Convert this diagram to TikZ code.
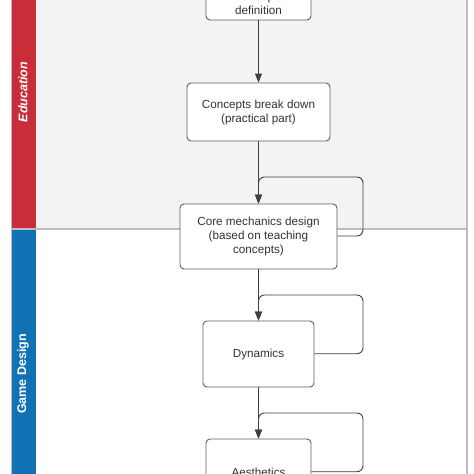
\documentclass[tikz,border=0pt]{standalone}
\usepackage{fontspec}
\setmainfont{Liberation Sans}
\usetikzlibrary{arrows.meta}
\definecolor{edured}{HTML}{C92D39}
\definecolor{gdblue}{HTML}{1071B5}
\definecolor{lanebg}{HTML}{F2F3F5}
\definecolor{laneline}{HTML}{BDBDBD}
\definecolor{boxline}{HTML}{5E5E5E}
\definecolor{arrowc}{HTML}{3F3F3F}
\definecolor{textc}{HTML}{333333}
\tikzset{
  procbox/.style={draw=boxline, line width=0.9pt, rounded corners=4pt, fill=white,
    align=center, text=textc, font=\fontsize{11.7}{14}\selectfont, inner sep=0pt},
  flow/.style={draw=arrowc, line width=0.9pt, -{Triangle[length=9pt,width=7pt]}},
  loopline/.style={flow, rounded corners=6pt},
  lanelabel/.style={text=white, rotate=90, font=\fontsize{12.5}{15}\selectfont\bfseries}
}
\begin{document}
\begin{tikzpicture}[x=1pt,y=-1pt]
\useasboundingbox (0,0) rectangle (474,474);
\begin{scope}
\clip (0,0) rectangle (474,474);
% lanes
\fill[white] (0,0) rectangle (474,474);
\fill[lanebg] (36,0) rectangle (467,229);
\fill[edured] (11,0) rectangle (36,229);
\fill[gdblue] (11,229) rectangle (36,480);
\draw[laneline, line width=1.4pt] (11,229) -- (467,229);
\draw[laneline, line width=1.4pt] (467,-5) -- (467,480);
\draw[laneline, line width=0.6pt] (11,-5) -- (11,480);
\node[lanelabel, font=\fontsize{12.5}{15}\selectfont\bfseries\itshape] (edu) at (23,92) {Education};
\node[lanelabel] (gd) at (23,374) {Game Design};
% boxes
\node[procbox, minimum width=105pt, minimum height=34pt] (def) at (258.5,3) {Concepts\\definition};
\node[procbox, minimum width=143pt, minimum height=58pt] (cbd) at (258.5,112) {Concepts break down\\(practical part)};
\node[procbox, minimum width=157pt, minimum height=65pt] (core) at (258.5,236.5) {Core mechanics design\\(based on teaching\\concepts)};
\node[procbox, minimum width=111pt, minimum height=66pt] (dyn) at (258.5,354) {Dynamics};
\node[procbox, minimum width=105pt, minimum height=66pt] (aes) at (258.5,472) {Aesthetics};
% connectors
\draw[flow] (def.south) -- (cbd.north);
\draw[flow] (cbd.south) -- (core.north);
\draw[flow] (core.south) -- (dyn.north);
\draw[flow] (dyn.south) -- (aes.north);
\coordinate (l1a) at (363,236);
\coordinate (l1b) at (363,177);
\coordinate (l1c) at (258.5,177);
\draw[loopline] (core.east |- l1a) -- (l1a) -- (l1b) -- (l1c) -- (core.north);
\coordinate (l2a) at (363,353.7);
\coordinate (l2b) at (363,295);
\coordinate (l2c) at (258.5,295);
\draw[loopline] (dyn.east |- l2a) -- (l2a) -- (l2b) -- (l2c) -- (dyn.north);
\coordinate (l3a) at (363,471.7);
\coordinate (l3b) at (363,413);
\coordinate (l3c) at (258.5,413);
\draw[loopline] (aes.east |- l3a) -- (l3a) -- (l3b) -- (l3c) -- (aes.north);
\end{scope}
\end{tikzpicture}
\end{document}
